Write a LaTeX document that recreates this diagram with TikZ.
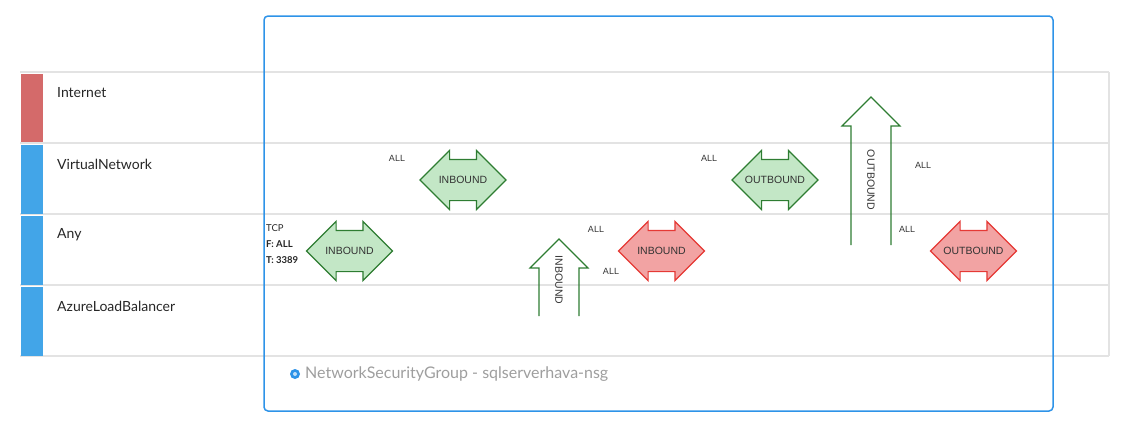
\documentclass[tikz,border=0pt]{standalone}
\usepackage{fontspec}
\setmainfont{Lato}
\newfontfamily\arrfont{Liberation Sans}
\usepackage{xcolor}
\usepackage{tikz}
\usetikzlibrary{shapes,arrows.meta,positioning,calc}

\definecolor{inetred}{HTML}{D46A6A}
\definecolor{azblue}{HTML}{42A5E8}
\definecolor{boxblue}{HTML}{2E93E8}
\definecolor{gridgray}{HTML}{E3E3E3}
\definecolor{allowfill}{HTML}{C3E7C6}
\definecolor{allowline}{HTML}{2E7D32}
\definecolor{denyfill}{HTML}{F2A3A3}
\definecolor{denyline}{HTML}{E53935}
\definecolor{nsggray}{HTML}{9E9E9E}

\begin{document}
\begin{tikzpicture}[
    x=1pt, y=-1pt,
    rowlbl/.style={anchor=west, inner sep=0pt, font=\fontsize{14}{16}\selectfont, text=black!85},
    small/.style={anchor=west, inner sep=0pt, font=\fontsize{9.5}{11}\selectfont, text=black!85},
    allfont/.style={inner sep=0pt, font=\arrfont\fontsize{9}{11}\selectfont, text=black!80},
    arrtxt/.style={inner sep=0pt, font=\arrfont\fontsize{10.5}{12}\selectfont, text=black!80},
    dblarr/.style={double arrow, double arrow tip angle=90, double arrow head extend=9pt, minimum width=58pt, minimum height=86pt, inner xsep=0pt, inner ysep=20pt, text height=0pt, text depth=0pt, line width=1.2pt, label={[arrtxt]center:#1}},
    allow/.style={dblarr=#1, draw=allowline, fill=allowfill},
    deny/.style={dblarr=#1, draw=denyline, fill=denyfill},
    uparr/.style={draw=allowline, line width=1.2pt, line join=miter}
]
    \useasboundingbox (0,0) rectangle (1125,426);

    % table rows
    \foreach \yy in {72,143,214,285,356}
        \draw [gridgray, line width=1.5pt] (20,\yy) -- (1109,\yy);
    \draw [gridgray, line width=1.5pt] (1109,72) -- (1109,356);
    \fill [inetred] (21,73.5) rectangle (43,141.5);
    \foreach \yy in {143,214,285}
        \fill [azblue] (21,\yy+1.5) rectangle (43,\yy+70.5);

    \node [rowlbl] (inet) at (57,93) {Internet};
    \node [rowlbl] (vnet) at (57,164) {VirtualNetwork};
    \node [rowlbl] (any) at (57,235) {Any};
    \node [rowlbl] (alb) at (57,306) {AzureLoadBalancer};

    % nsg container
    \draw [boxblue, line width=1.5pt, rounded corners=4pt] (264,16) rectangle (1053,411);
    \fill [boxblue] (295,374) circle (5pt);
    \fill [white!70!boxblue] (295,374) circle (2pt);
    \node [anchor=west, inner sep=0pt, text=nsggray, font=\fontsize{16}{19}\selectfont] (nsg) at (305,374) {NetworkSecurityGroup - sqlserverhava-nsg};

    % rules
    \node [small] (tcp) at (266,228) {TCP};
    \node [small] (from) at (266,244) {\bfseries F: ALL};
    \node [small] (to) at (266,260) {\bfseries T: 3389};
    \node [allow=INBOUND] (in1) at (349.5,251) {};

    \node [allfont] (all1) at (397,158) {ALL};
    \node [allow=INBOUND] (in2) at (463,180) {};

    \node [allfont] (all2) at (709,158) {ALL};
    \node [allow=OUTBOUND] (out1) at (775,180) {};

    \node [allfont] (all3) at (596,229) {ALL};
    \node [allfont] (all4) at (611,271) {ALL};
    \node [deny=INBOUND] (in3) at (661.5,251) {};

    \draw [uparr] (539,316) -- (539,268) -- (530,268) -- (559,239) -- (588,268) -- (579,268) -- (579,316);
    \node [arrtxt, rotate=-90] (in4) at (559,280) {INBOUND};

    \draw [uparr] (851,245) -- (851,126) -- (842,126) -- (871,97) -- (900,126) -- (891,126) -- (891,245);
    \node [arrtxt, rotate=-90] (out2) at (871,180) {OUTBOUND};

    \node [allfont] (all5) at (923,165) {ALL};
    \node [allfont] (all6) at (907,229) {ALL};
    \node [deny=OUTBOUND] (out3) at (973.5,251) {};
\end{tikzpicture}
\end{document}
